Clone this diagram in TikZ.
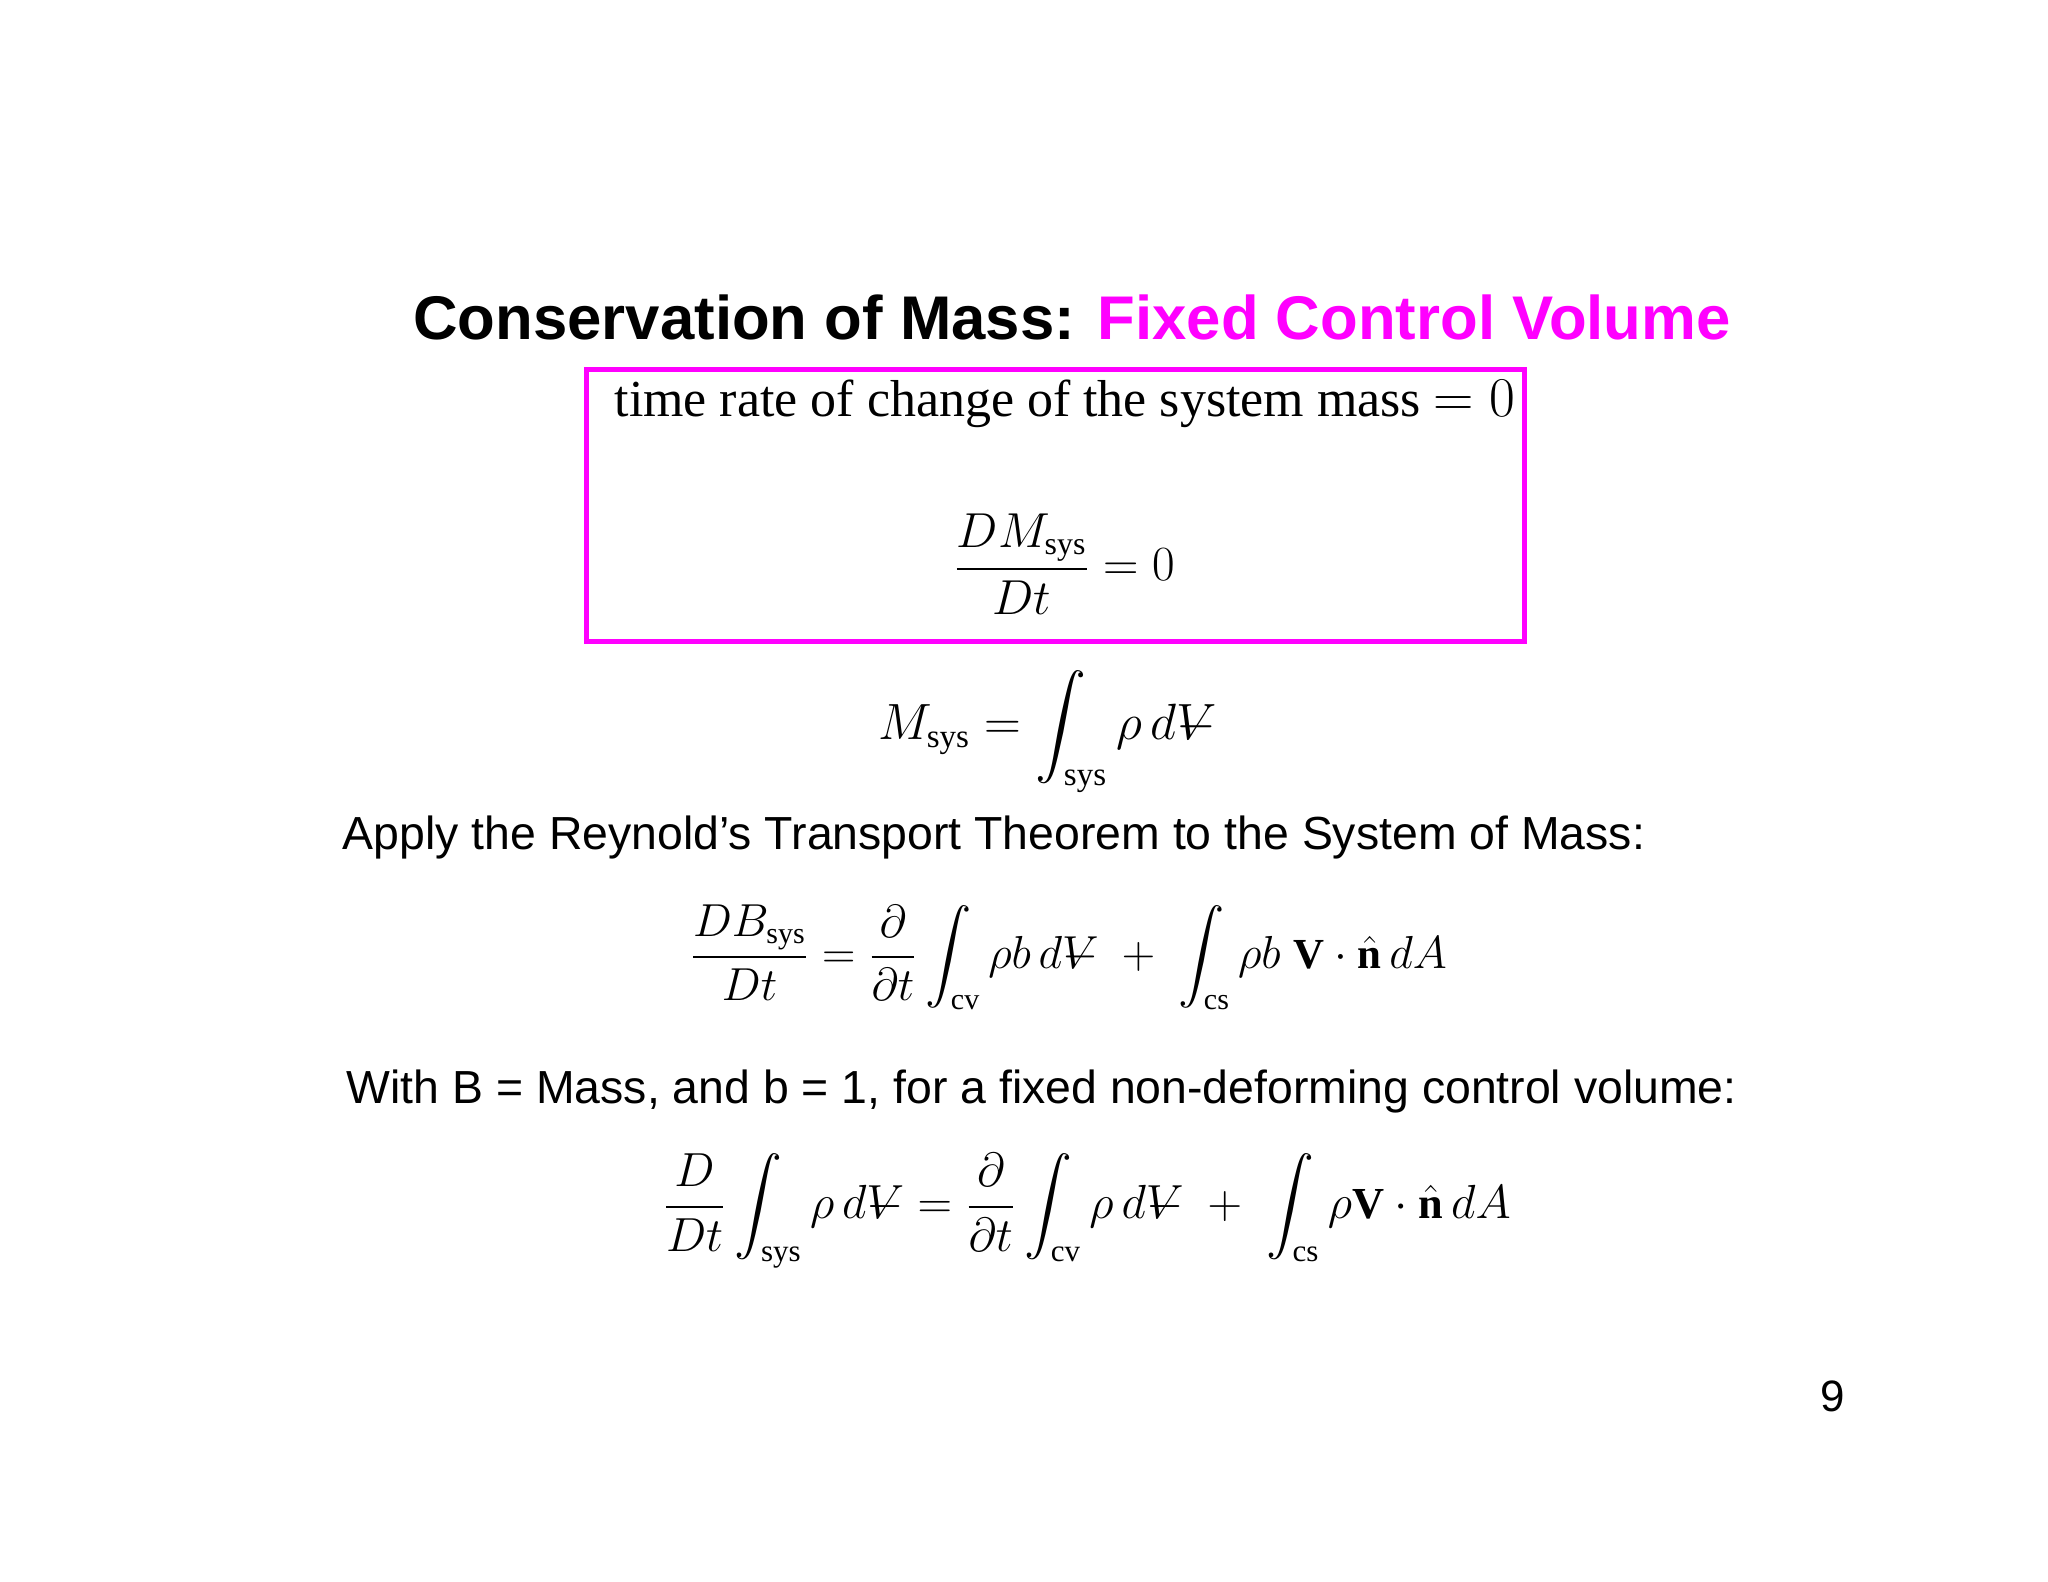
\documentclass[tikz,border=0pt]{standalone}
\usepackage{amsmath}
\usepackage{graphicx}
\usepackage{fontspec}
\setmainfont{Liberation Serif}
\newfontfamily\arialf{Liberation Sans}
\definecolor{mag}{RGB}{255,0,255}
\newcommand{\vol}{\ooalign{$V$\cr\hidewidth$-$\hidewidth\cr}}
\tikzset{eq/.style={inner sep=0pt,font=\fontsize{16}{19}\selectfont},
 txt/.style={inner sep=0pt,anchor=west,font=\arialf\fontsize{13.2}{16}\selectfont}}
\begin{document}
\begin{tikzpicture}[x=0.01306cm,y=-0.01306cm]
\useasboundingbox[fill=white] (0,0) rectangle (1568,1211);
\node[inner sep=0pt,anchor=west,font=\arialf\bfseries\fontsize{17.55}{21}\selectfont] (title) at (316,243) {Conservation of Mass: \textcolor{mag}{Fixed Control Volume}};
\draw[mag,line width=0.055cm] (449,283) rectangle (1167,491);
\node[eq,anchor=west] (e1) at (470,309) {\resizebox{9.01cm}{!}{time rate of change of the system mass $=0$}};
\node[eq] (e2) at (815,432) {\resizebox{2.22cm}{!}{$\displaystyle \frac{DM_{\mathrm{sys}}}{Dt}=0$}};
\node[eq] (e3) at (802,560) {\resizebox{3.38cm}{!}{$\displaystyle M_{\mathrm{sys}}=\int_{\mathrm{sys}}\rho\,d\vol$}};
\node[txt] (t1) at (262,641) {Apply the Reynold’s Transport Theorem to the System of Mass:};
\node[eq] (e4) at (818,733) {\resizebox{7.57cm}{!}{$\displaystyle \frac{DB_{\mathrm{sys}}}{Dt}=\frac{\partial}{\partial t}\int_{\mathrm{cv}}\rho b\,d\vol\;+\;\int_{\mathrm{cs}}\rho b\;\mathbf{V}\cdot\hat{\mathbf{n}}\,dA$}};
\node[txt] (t2) at (265,836) {With B = Mass, and b = 1, for a fixed non-deforming control volume:};
\node[eq] (e5) at (832,927) {\resizebox{8.48cm}{!}{$\displaystyle \frac{D}{Dt}\int_{\mathrm{sys}}\rho\,d\vol=\frac{\partial}{\partial t}\int_{\mathrm{cv}}\rho\,d\vol\;+\;\int_{\mathrm{cs}}\rho\mathbf{V}\cdot\hat{\mathbf{n}}\,dA$}};
\node[inner sep=0pt,font=\arialf\fontsize{12.5}{15}\selectfont] (pg) at (1403,1069) {9};
\end{tikzpicture}
\end{document}
